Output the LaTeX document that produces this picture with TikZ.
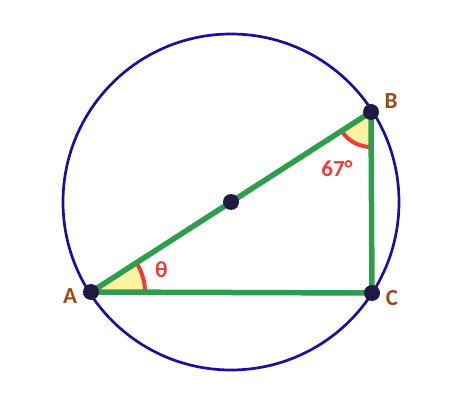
\documentclass[tikz,border=0pt]{standalone}
\usepackage{fontspec}
\setmainfont{Carlito}
\usetikzlibrary{angles,positioning,calc}
\definecolor{ringblue}{HTML}{1E0E9C}
\definecolor{sidegreen}{HTML}{2E9E4E}
\definecolor{dotnavy}{HTML}{1E1A45}
\definecolor{ptbrown}{HTML}{A2470F}
\definecolor{arcred}{HTML}{F23A3A}
\definecolor{arcfill}{HTML}{FFF3A0}

\begin{document}
\begin{tikzpicture}[x=1pt,y=1pt,
    dot/.style={circle,fill=dotnavy,inner sep=0pt,minimum size=16pt},
    ptlabel/.style={text=ptbrown,font=\bfseries\fontsize{23}{23}\selectfont},
    anglabel/.style={text=arcred,font=\bfseries\fontsize{23}{23}\selectfont},
    side/.style={draw=sidegreen,line width=5.5pt},
    angmark/.style={draw=arcred,fill=arcfill,line width=4pt}]
    \useasboundingbox (0,0) rectangle (474,410);
    % points
    \coordinate (A) at (91,118);
    \coordinate (B) at (371,298);
    \coordinate (C) at (372,117);
    \coordinate (O) at ($(A)!0.5!(B)$);
    % circle
    \draw[ringblue,line width=2.7pt] (O) circle (168pt);
    % angles
    \pic[angmark,angle radius=54pt] {angle=C--A--B};
    \pic[angmark,angle radius=35pt] {angle=A--B--C};
    % sides
    \path[side] (A) -- (B) -- (C) -- cycle;
    % dots
    \node[dot](dA) at (A) {};
    \node[dot](dB) at (B) {};
    \node[dot](dC) at (C) {};
    \node[dot](dO) at (O) {};
    % labels
    \node[ptlabel](lA) at (70,113.5) {A};
    \node[ptlabel](lB) at (391,309) {B};
    \node[ptlabel](lC) at (392,111.5) {C};
    \node[anglabel](lt) at (161.5,140) {θ};
    \node[anglabel](lb) at (337,241) {67°};
\end{tikzpicture}
\end{document}
